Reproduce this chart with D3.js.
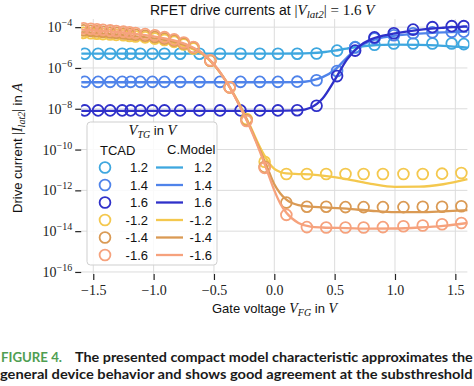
<!DOCTYPE html>
<html><head><meta charset="utf-8">
<script src="https://cdn.jsdelivr.net/npm/d3@7/dist/d3.min.js"></script>
<style>
html,body{margin:0;padding:0;background:#fff;}
svg{display:block;}
</style></head>
<body>
<svg id="chart" width="474" height="386"></svg>
<script>
// ---- data (log10 of current in A) ----
const seriesLabels = ["1.2", "1.4", "1.6", "-1.2", "-1.4", "-1.6"];
const seriesColors = ["#3ea7df", "#4f83ea", "#2f30c9", "#f4c84e", "#da9a54", "#f6a27d"];

const tcadPosX = [-1.57,-1.46,-1.36,-1.26,-1.19,-1.11,-1.01,-0.91,-0.78,-0.62,-0.45,-0.28,-0.12,0.03,0.19,0.35,0.52,0.67,0.83,0.99,1.15,1.31,1.47,1.57];
const tcadP12 = [-5.3,-5.3,-5.3,-5.3,-5.3,-5.3,-5.3,-5.3,-5.3,-5.3,-5.3,-5.3,-5.3,-5.3,-5.3,-5.29,-5.15,-4.98,-4.86,-4.8,-4.8,-4.8,-4.8,-4.83];
const tcadP14 = [-6.68,-6.68,-6.68,-6.68,-6.68,-6.68,-6.68,-6.68,-6.68,-6.68,-6.68,-6.68,-6.68,-6.68,-6.67,-6.6,-6.15,-5.0,-4.55,-4.4,-4.3,-4.25,-4.23,-4.22];
const tcadP16 = [-8.08,-8.08,-8.08,-8.08,-8.08,-8.08,-8.08,-8.08,-8.08,-8.08,-8.08,-8.08,-8.08,-8.08,-8.07,-7.85,-6.4,-5.15,-4.5,-4.3,-4.12,-4.0,-3.95,-3.95];

const tcadNegX = [-1.58,-1.52,-1.47,-1.42,-1.36,-1.31,-1.25,-1.2,-1.15,-1.07,-0.99,-0.91,-0.83,-0.75,-0.67,-0.53,-0.37,-0.23,-0.08,0.1,0.27,0.43,0.59,0.74,0.9,1.07,1.23,1.39,1.55];
const tcadN12 = [-4.28,-4.3,-4.32,-4.34,-4.36,-4.38,-4.4,-4.43,-4.46,-4.5,-4.56,-4.63,-4.72,-4.85,-5.05,-5.65,-6.95,-8.5,-10.6,-11.2,-11.2,-11.2,-11.2,-11.2,-11.2,-11.2,-11.2,-11.18,-11.15];
const tcadN14 = [-4.15,-4.18,-4.2,-4.23,-4.26,-4.28,-4.31,-4.34,-4.37,-4.42,-4.48,-4.56,-4.66,-4.8,-5.0,-5.65,-6.95,-8.55,-10.85,-12.6,-12.8,-12.8,-12.82,-12.82,-12.82,-12.82,-12.8,-12.8,-12.78];
const tcadN16 = [-4.05,-4.08,-4.1,-4.13,-4.16,-4.19,-4.22,-4.25,-4.29,-4.34,-4.4,-4.49,-4.6,-4.75,-4.97,-5.62,-6.95,-8.6,-10.9,-13.2,-13.8,-13.82,-13.82,-13.82,-13.8,-13.76,-13.72,-13.66,-13.6];

const modelPosX = [-1.6,-1.2,-0.8,-0.4,0.0,0.2,0.3,0.4,0.5,0.6,0.7,0.8,0.9,1.0,1.2,1.4,1.6];
const modelP12 = [-5.3,-5.3,-5.3,-5.3,-5.3,-5.29,-5.27,-5.23,-5.15,-5.05,-4.96,-4.9,-4.87,-4.86,-4.87,-4.92,-5.0];
const modelP14 = [-6.7,-6.7,-6.7,-6.7,-6.7,-6.69,-6.63,-6.45,-6.1,-5.5,-4.97,-4.67,-4.5,-4.42,-4.32,-4.26,-4.22];
const modelP16 = [-8.1,-8.1,-8.1,-8.1,-8.1,-8.08,-7.95,-7.5,-6.6,-5.6,-4.95,-4.6,-4.42,-4.3,-4.13,-4.03,-3.96];

const modelNegX = [-1.6,-1.4,-1.2,-1.0,-0.8,-0.7,-0.6,-0.5,-0.4,-0.3,-0.2,-0.1,-0.05,0.0,0.05,0.1,0.2,0.3,0.4,0.6,0.8,1.0,1.2,1.4,1.6];
const modelN12 = [-4.4,-4.47,-4.55,-4.66,-4.85,-5.02,-5.3,-5.85,-6.65,-7.65,-8.85,-10.1,-10.6,-10.95,-11.1,-11.17,-11.2,-11.22,-11.28,-11.45,-11.68,-11.83,-11.82,-11.7,-11.45];
const modelN14 = [-4.25,-4.33,-4.42,-4.55,-4.77,-4.96,-5.27,-5.83,-6.65,-7.7,-8.9,-10.3,-11.0,-11.7,-12.15,-12.45,-12.72,-12.8,-12.83,-12.9,-13.0,-13.07,-13.07,-13.03,-12.97];
const modelN16 = [-4.12,-4.2,-4.3,-4.45,-4.7,-4.92,-5.25,-5.82,-6.65,-7.72,-8.95,-10.4,-11.2,-12.0,-12.65,-13.1,-13.6,-13.78,-13.82,-13.85,-13.88,-13.87,-13.82,-13.74,-13.6];

const xTicks = [-1.5,-1.0,-0.5,0.0,0.5,1.0,1.5];
const yTickExps = [-4,-6,-8,-10,-12,-14,-16];

// ---- layout ----
const svg = d3.select("#chart");
const L = 81.2, R = 467.4, T = 19, B = 274;
const x = d3.scaleLinear().domain([-1.6, 1.6]).range([L, R]);
const y = d3.scaleLog().domain([Math.pow(10,-16.1), Math.pow(10,-3.6)]).range([B, T]);

const serifF = "'Liberation Serif','DejaVu Serif',serif";
const sansF = "'Liberation Sans',Arial,sans-serif";

svg.append("defs").append("clipPath").attr("id","clip")
  .append("rect").attr("x",L).attr("y",T-2).attr("width",R-L+2).attr("height",B-T+2);

// grid
const grid = svg.append("g");
grid.selectAll(".vg").data(xTicks).enter().append("line")
  .attr("x1",d=>x(d)).attr("x2",d=>x(d)).attr("y1",T).attr("y2",B)
  .attr("stroke","#dcdcdc").attr("stroke-width",1);
grid.selectAll(".hg").data(yTickExps).enter().append("line")
  .attr("x1",L).attr("x2",R).attr("y1",d=>y(Math.pow(10,d))).attr("y2",d=>y(Math.pow(10,d)))
  .attr("stroke","#dcdcdc").attr("stroke-width",1);

// axes
const xAxis = d3.axisBottom(x).tickValues(xTicks).tickSize(6).tickPadding(5)
  .tickFormat(d => (d<0?"\u2212":"") + Math.abs(d).toFixed(1));
const gx = svg.append("g").attr("transform",`translate(0,${B})`).call(xAxis);
gx.select(".domain").remove();
gx.selectAll("line").attr("stroke","#222").attr("stroke-width",1.2);
gx.selectAll("text").attr("font-family",serifF).attr("font-size",14).attr("fill","#222");

const yAxis = d3.axisLeft(y).tickValues(yTickExps.map(e=>Math.pow(10,e))).tickSize(6).tickFormat("");
const gy = svg.append("g").attr("transform",`translate(${L},0)`).call(yAxis);
gy.select(".domain").remove();
gy.selectAll("line").attr("stroke","#222").attr("stroke-width",1.2);
gy.selectAll(".tick").each(function(d){
  const e = Math.round(Math.log10(d));
  const t = d3.select(this).append("text").attr("x",-9).attr("y",4.5)
    .attr("text-anchor","end").attr("font-family",serifF).attr("fill","#222");
  t.append("tspan").attr("font-size",14).text("10");
  t.append("tspan").attr("font-size",10).attr("dy",-6).text("\u2212"+Math.abs(e));
});

// data
const plot = svg.append("g").attr("clip-path","url(#clip)");
const line = d3.line().x(d=>x(d[0])).y(d=>y(Math.pow(10,d[1]))).curve(d3.curveMonotoneX);
const zip = (xs, ys) => xs.map((v,i)=>[v, ys[i]]);

const tcad = [[tcadPosX,tcadP12],[tcadPosX,tcadP14],[tcadPosX,tcadP16],[tcadNegX,tcadN12],[tcadNegX,tcadN14],[tcadNegX,tcadN16]];
const model = [[modelPosX,modelP12],[modelPosX,modelP14],[modelPosX,modelP16],[modelNegX,modelN12],[modelNegX,modelN14],[modelNegX,modelN16]];

seriesLabels.forEach((lab,i)=>{
  const col = seriesColors[i];
  const g = plot.append("g");
  g.selectAll("circle").data(zip(tcad[i][0], tcad[i][1])).enter().append("circle")
    .attr("cx",d=>x(d[0])).attr("cy",d=>y(Math.pow(10,d[1]))).attr("r",5.4)
    .attr("fill","none").attr("stroke",col).attr("stroke-width",1.8);
  g.append("path").datum(zip(model[i][0], model[i][1])).attr("d",line)
    .attr("fill","none").attr("stroke",col).attr("stroke-width",2.3);
});

// legend
const lg = svg.append("g");
lg.append("rect").attr("x",87).attr("y",122).attr("width",130).attr("height",143).attr("rx",3.5)
  .attr("fill","#fff").attr("fill-opacity",0.85).attr("stroke","#cfcfcf").attr("stroke-width",1);
const lt = lg.append("text").attr("x",152.5).attr("y",135).attr("text-anchor","middle").attr("fill","#111");
lt.append("tspan").attr("font-family",serifF).attr("font-style","italic").attr("font-size",14.5).text("V");
lt.append("tspan").attr("font-family",serifF).attr("font-style","italic").attr("font-size",10).attr("dy",3).text("TG");
lt.append("tspan").attr("font-family",sansF).attr("font-size",13).attr("dy",-3).text(" in ");
lt.append("tspan").attr("font-family",serifF).attr("font-style","italic").attr("font-size",14.5).text("V");
lg.append("text").attr("x",100).attr("y",155).attr("font-family",sansF).attr("font-size",13).attr("fill","#111").text("TCAD");
lg.append("text").attr("x",167).attr("y",154).attr("font-family",sansF).attr("font-size",13).attr("fill","#111").text("C.Model");
seriesLabels.forEach((lab,i)=>{
  const cy = 167.5 + i*17.5;
  const col = seriesColors[i];
  lg.append("circle").attr("cx",105).attr("cy",cy).attr("r",5.4).attr("fill","none").attr("stroke",col).attr("stroke-width",1.8);
  lg.append("text").attr("x",148).attr("y",cy+4.6).attr("text-anchor","end").attr("font-family",sansF).attr("font-size",13).attr("fill","#111").text(lab);
  lg.append("line").attr("x1",156).attr("x2",183).attr("y1",cy).attr("y2",cy).attr("stroke",col).attr("stroke-width",2.3);
  lg.append("text").attr("x",212).attr("y",cy+4.6).attr("text-anchor","end").attr("font-family",sansF).attr("font-size",13).attr("fill","#111").text(lab);
});

// title
const tt = svg.append("text").attr("x",150).attr("y",15).attr("fill","#111");
tt.append("tspan").attr("font-family",sansF).attr("font-size",14).text("RFET drive currents at ");
tt.append("tspan").attr("font-family",serifF).attr("font-size",15).text("|");
tt.append("tspan").attr("font-family",serifF).attr("font-style","italic").attr("font-size",15).text("V");
tt.append("tspan").attr("font-family",serifF).attr("font-style","italic").attr("font-size",11).attr("dy",3).text("lat2");
tt.append("tspan").attr("font-family",serifF).attr("font-size",15).attr("dy",-3).text("| = 1.6 ");
tt.append("tspan").attr("font-family",serifF).attr("font-style","italic").attr("font-size",15).text("V");

// x label
const xl = svg.append("text").attr("x",274.5).attr("y",313).attr("text-anchor","middle").attr("fill","#111");
xl.append("tspan").attr("font-family",sansF).attr("font-size",13).text("Gate voltage ");
xl.append("tspan").attr("font-family",serifF).attr("font-style","italic").attr("font-size",14).text("V");
xl.append("tspan").attr("font-family",serifF).attr("font-style","italic").attr("font-size",10).attr("dy",3).text("FG");
xl.append("tspan").attr("font-family",sansF).attr("font-size",13).attr("dy",-3).text(" in ");
xl.append("tspan").attr("font-family",serifF).attr("font-style","italic").attr("font-size",14).text("V");

// y label
const yl = svg.append("text").attr("transform","translate(22,148) rotate(-90)").attr("text-anchor","middle").attr("fill","#111");
yl.append("tspan").attr("font-family",sansF).attr("font-size",13).text("Drive current ");
yl.append("tspan").attr("font-family",serifF).attr("font-size",14).text("|");
yl.append("tspan").attr("font-family",serifF).attr("font-style","italic").attr("font-size",14).text("I");
yl.append("tspan").attr("font-family",serifF).attr("font-style","italic").attr("font-size",10).attr("dy",3).text("lat2");
yl.append("tspan").attr("font-family",serifF).attr("font-size",14).attr("dy",-3).text("|");
yl.append("tspan").attr("font-family",sansF).attr("font-size",13).text(" in ");
yl.append("tspan").attr("font-family",serifF).attr("font-style","italic").attr("font-size",14).text("A");

// caption (scaled horizontally to fit the reference's line widths)
const capF = "Lato,'Open Sans',sans-serif";
function capText(str, x0, y0, width, color){
  const t = svg.append("text").attr("font-family",capF).attr("font-weight",700).attr("font-size",14)
    .attr("fill",color).text(str);
  const w = t.node().getComputedTextLength();
  const sx = width / w;
  t.attr("transform",`translate(${x0},${y0}) scale(${sx},1)`);
}
capText("FIGURE 4.", 1, 362, 61, "#4f9e52");
capText("The presented compact model characteristic approximates the", 75, 362, 398, "#1a1a1a");
capText("general device behavior and shows good agreement at the substhreshold", 0, 379, 473, "#1a1a1a");
</script>
</body></html>
